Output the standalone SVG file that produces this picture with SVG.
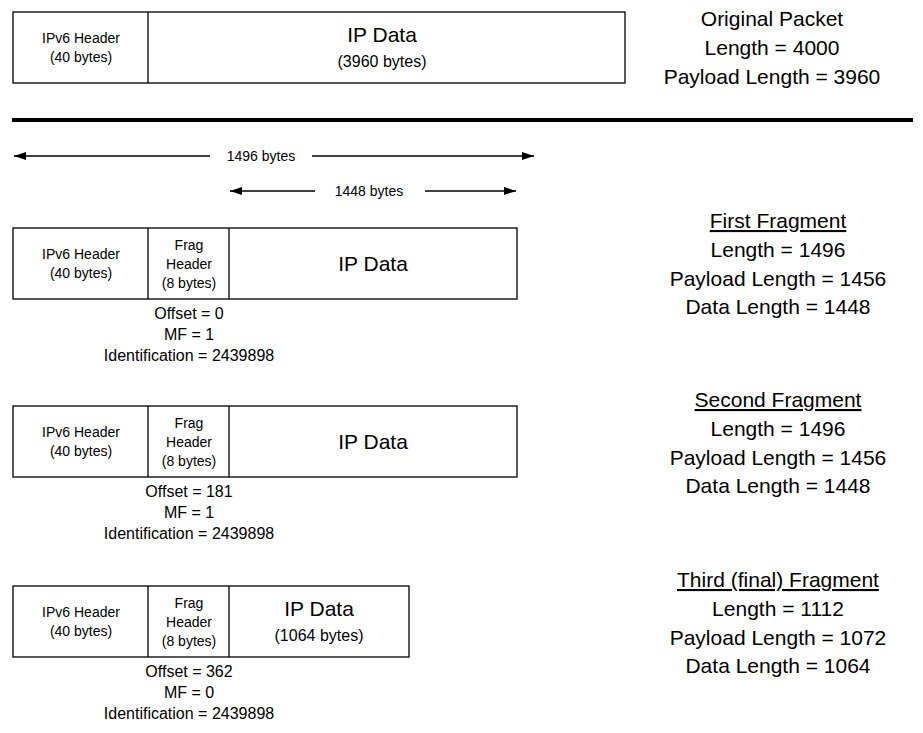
<svg xmlns="http://www.w3.org/2000/svg" width="923" height="733" viewBox="0 0 923 733">
<style>
.b{fill:#fff;stroke:#000;stroke-width:1.3}
.l{stroke:#000;stroke-width:1.3}
text{font-family:"Liberation Sans",Arial,sans-serif;fill:#000;text-anchor:middle}
.s{font-size:14px}.m{font-size:16px}.L{font-size:21px}
</style>
<defs><marker id="a" markerWidth="12" markerHeight="8" refX="12" refY="4" orient="auto-start-reverse" markerUnits="userSpaceOnUse"><path d="M0,0L12,4L0,8z" fill="#000"/></marker></defs>
<g id="orig">
<rect class="b" x="13" y="12" width="612" height="71"/><line class="l" x1="148" y1="12" x2="148" y2="83"/>
<text class="s" x="81" y="43">IPv6 Header</text><text class="s" x="81" y="62">(40 bytes)</text>
<text class="L" x="382" y="42">IP Data</text><text class="m" x="382" y="67">(3960 bytes)</text>
<text class="L" x="772" y="26">Original Packet</text><text class="L" x="772" y="55">Length = 4000</text><text class="L" x="772" y="84">Payload Length = 3960</text>
</g>
<g id="connectors">
<line x1="12" y1="120" x2="913" y2="120" stroke="#000" stroke-width="4"/>
<line class="l" x1="14" y1="156" x2="210" y2="156" marker-start="url(#a)"/>
<line class="l" x1="312" y1="156" x2="534" y2="156" marker-end="url(#a)"/>
<line class="l" x1="230" y1="191" x2="315" y2="191" marker-start="url(#a)"/>
<line class="l" x1="425" y1="191" x2="516" y2="191" marker-end="url(#a)"/>
<text class="s" x="261" y="161">1496 bytes</text>
<text class="s" x="369" y="196">1448 bytes</text>
</g>
<g id="frag1">
<rect class="b" x="13" y="228" width="504" height="71"/><line class="l" x1="148" y1="228" x2="148" y2="299"/><line class="l" x1="229" y1="228" x2="229" y2="299"/>
<text class="s" x="81" y="259">IPv6 Header</text><text class="s" x="81" y="278">(40 bytes)</text>
<text class="s" x="189" y="250">Frag</text><text class="s" x="189" y="269">Header</text><text class="s" x="189" y="288">(8 bytes)</text>
<text class="L" x="373" y="271">IP Data</text>
<text class="m" x="189" y="319">Offset = 0</text><text class="m" x="189" y="340">MF = 1</text><text class="m" x="189" y="361">Identification = 2439898</text>
<text class="L" x="778" y="228" text-decoration="underline">First Fragment</text><text class="L" x="778" y="257">Length = 1496</text><text class="L" x="778" y="286">Payload Length = 1456</text><text class="L" x="778" y="314">Data Length = 1448</text>
</g>
<g id="frag2">
<rect class="b" x="13" y="406" width="504" height="71"/><line class="l" x1="148" y1="406" x2="148" y2="477"/><line class="l" x1="229" y1="406" x2="229" y2="477"/>
<text class="s" x="81" y="437">IPv6 Header</text><text class="s" x="81" y="456">(40 bytes)</text>
<text class="s" x="189" y="428">Frag</text><text class="s" x="189" y="447">Header</text><text class="s" x="189" y="466">(8 bytes)</text>
<text class="L" x="373" y="449">IP Data</text>
<text class="m" x="189" y="497">Offset = 181</text><text class="m" x="189" y="518">MF = 1</text><text class="m" x="189" y="539">Identification = 2439898</text>
<text class="L" x="778" y="407" text-decoration="underline">Second Fragment</text><text class="L" x="778" y="436">Length = 1496</text><text class="L" x="778" y="465">Payload Length = 1456</text><text class="L" x="778" y="493">Data Length = 1448</text>
</g>
<g id="frag3">
<rect class="b" x="13" y="586" width="396" height="71"/><line class="l" x1="148" y1="586" x2="148" y2="657"/><line class="l" x1="229" y1="586" x2="229" y2="657"/>
<text class="s" x="81" y="617">IPv6 Header</text><text class="s" x="81" y="636">(40 bytes)</text>
<text class="s" x="189" y="608">Frag</text><text class="s" x="189" y="627">Header</text><text class="s" x="189" y="646">(8 bytes)</text>
<text class="L" x="319" y="616">IP Data</text><text class="m" x="319" y="641">(1064 bytes)</text>
<text class="m" x="189" y="677">Offset = 362</text><text class="m" x="189" y="698">MF = 0</text><text class="m" x="189" y="719">Identification = 2439898</text>
<text class="L" x="778" y="587" text-decoration="underline">Third (final) Fragment</text><text class="L" x="778" y="616">Length = 1112</text><text class="L" x="778" y="645">Payload Length = 1072</text><text class="L" x="778" y="673">Data Length = 1064</text>
</g>
</svg>
